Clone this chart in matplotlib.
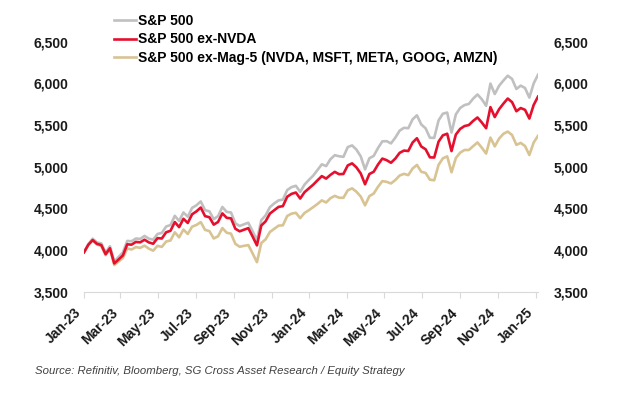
import matplotlib
matplotlib.use("Agg")
import matplotlib.pyplot as plt
import pandas as pd

# Weekly closes (Fridays), Jan-23 .. Jan-25
start_date = "2023-01-20"

sp500 = [3972, 4071, 4136, 4090, 4079, 3970, 4045, 3862, 3917, 3971,
         4109, 4105, 4138, 4133, 4169, 4136, 4124, 4192, 4205, 4282,
         4299, 4410, 4348, 4450, 4399, 4505, 4536, 4582, 4478, 4464,
         4370, 4406, 4516, 4457, 4450, 4320, 4288, 4308, 4327, 4224,
         4117, 4358, 4415, 4514, 4559, 4595, 4604, 4719, 4754, 4770,
         4697, 4784, 4840, 4891, 4959, 5027, 5006, 5089, 5137, 5124,
         5117, 5234, 5254, 5204, 5123, 4967, 5100, 5128, 5223, 5303,
         5305, 5278, 5347, 5431, 5465, 5460, 5567, 5615, 5505, 5459,
         5346, 5344, 5554, 5634, 5648, 5408, 5626, 5703, 5738, 5751,
         5815, 5865, 5808, 5729, 5995, 5870, 5969, 6032, 6090, 6051,
         5931, 5971, 5942, 5827, 5997, 6101]

sp500_ex_nvda = [3972, 4063, 4119, 4074, 4059, 3950, 4021, 3839, 3886, 3935,
                 4068, 4064, 4097, 4092, 4123, 4091, 4075, 4142, 4138, 4213,
                 4230, 4335, 4274, 4374, 4324, 4428, 4463, 4509, 4406, 4393,
                 4304, 4336, 4439, 4386, 4379, 4255, 4224, 4243, 4262, 4161,
                 4055, 4293, 4344, 4437, 4477, 4517, 4526, 4639, 4673, 4689,
                 4617, 4693, 4738, 4783, 4835, 4886, 4856, 4901, 4937, 4909,
                 4912, 5014, 5039, 4991, 4918, 4788, 4911, 4938, 5025, 5096,
                 5077, 5046, 5096, 5165, 5192, 5187, 5289, 5340, 5241, 5208,
                 5111, 5109, 5299, 5375, 5394, 5186, 5384, 5452, 5486, 5498,
                 5548, 5589, 5529, 5460, 5713, 5594, 5688, 5755, 5816, 5773,
                 5664, 5702, 5681, 5576, 5739, 5839]

sp500_ex_mag5 = [3972, 4059, 4115, 4065, 4050, 3938, 4009, 3820, 3862, 3903,
                 4019, 4006, 4035, 4026, 4052, 4016, 3992, 4050, 4037, 4102,
                 4114, 4212, 4152, 4245, 4192, 4280, 4300, 4335, 4241, 4227,
                 4138, 4164, 4263, 4207, 4196, 4074, 4039, 4050, 4059, 3958,
                 3854, 4083, 4128, 4216, 4254, 4292, 4296, 4408, 4436, 4446,
                 4382, 4444, 4477, 4514, 4552, 4595, 4570, 4621, 4649, 4627,
                 4626, 4716, 4739, 4699, 4641, 4535, 4646, 4677, 4758, 4826,
                 4817, 4798, 4839, 4893, 4913, 4898, 4977, 5020, 4938, 4924,
                 4843, 4836, 5021, 5099, 5123, 4932, 5103, 5167, 5199, 5199,
                 5245, 5290, 5227, 5156, 5348, 5242, 5336, 5393, 5420, 5379,
                 5261, 5284, 5247, 5139, 5289, 5369]

labels = ["S&P 500", "S&P 500 ex-NVDA", "S&P 500 ex-Mag-5 (NVDA, MSFT, META, GOOG, AMZN)"]
y_ticks = [3500, 4000, 4500, 5000, 5500, 6000, 6500]

dates = pd.date_range(start_date, periods=len(sp500), freq="W-FRI")
tick_dates = pd.date_range(start_date, periods=13, freq=pd.DateOffset(months=2))

plt.rcParams["font.family"] = ["Liberation Sans", "DejaVu Sans"]

fig = plt.figure(figsize=(6.2, 3.97), dpi=100)
ax = fig.add_axes([84 / 620, 1 - 291.7 / 397, (538 - 84) / 620, 250.2 / 397])

l1, = ax.plot(dates, sp500, color="#c0c0c0", lw=1.9, zorder=1)
l3, = ax.plot(dates, sp500_ex_mag5, color="#d8c393", lw=1.9, zorder=2)
l2, = ax.plot(dates, sp500_ex_nvda, color="#e5102e", lw=1.9, zorder=3)

ax.set_xlim(dates[0], dates[-1])
ax.set_ylim(3500, 6500)
ax.set_yticks(y_ticks)
ax.set_yticklabels(["{:,}".format(v) for v in y_ticks])
ax.set_xticks(tick_dates)
ax.set_xticklabels([d.strftime("%b-%y") for d in tick_dates], rotation=45,
                   ha="right", va="top")

for s in ["top", "left", "right"]:
    ax.spines[s].set_visible(False)
ax.spines["bottom"].set_color("#d9d9d9")
ax.tick_params(axis="x", length=4, color="#d9d9d9", pad=6, labelsize=10)
ax.tick_params(axis="y", length=0, pad=11, labelsize=10,
               labelleft=True, labelright=True)
for t in ax.get_xticklabels() + ax.get_yticklabels():
    t.set_fontweight("bold")
    t.set_color("#1a1a1a")

leg = fig.legend([l1, l2, l3], labels, loc="upper left",
                 bbox_to_anchor=(108 / 620, 1 - 8 / 397), frameon=False,
                 handlelength=1.6, handletextpad=0.15, labelspacing=0.35,
                 borderaxespad=0, prop={"size": 10, "weight": "bold"})

fig.text(35 / 620, 1 - 371 / 397,
         "Source: Refinitiv, Bloomberg, SG Cross Asset Research / Equity Strategy",
         fontsize=8.2, style="italic", color="#404040", va="center")

fig.savefig("out.png", dpi=100)
